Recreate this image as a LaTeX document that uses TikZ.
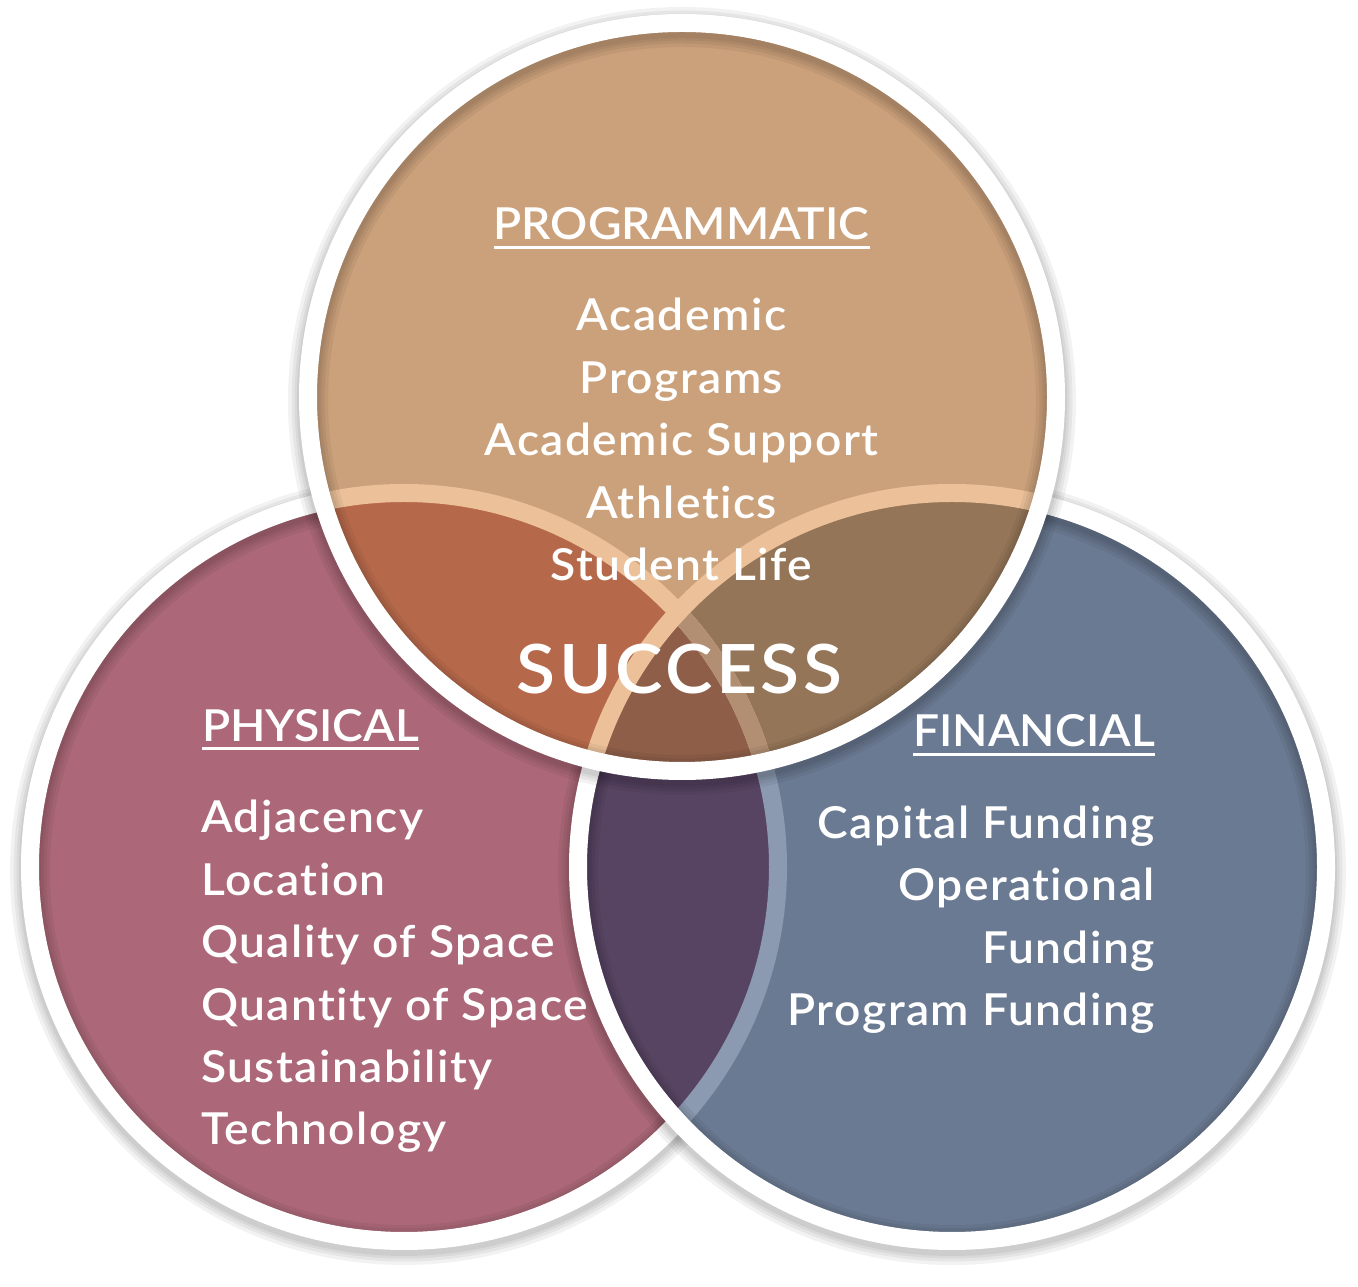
\documentclass[tikz,border=0pt]{standalone}
\usepackage{fontspec}
\IfFontExistsTF{Lato Semibold}{%
  \newfontfamily\txtfont{Lato Semibold}[FakeStretch=1.05, LetterSpace=3.3, Ligatures=NoCommon]%
  \newfontfamily\hdfont{Lato Semibold}[FakeStretch=1.05, Ligatures=NoCommon]%
  \newfontfamily\bgfont{Lato Semibold}[FakeStretch=1.05, LetterSpace=5, Ligatures=NoCommon]%
}{%
  \newfontfamily\txtfontX{Lato}[FakeStretch=1.05, LetterSpace=3.3, Ligatures=NoCommon]\newcommand\txtfont{\txtfontX\bfseries}%
  \newfontfamily\hdfontX{Lato}[FakeStretch=1.05, Ligatures=NoCommon]\newcommand\hdfont{\hdfontX\bfseries}%
  \newfontfamily\bgfontX{Lato}[FakeStretch=1.05, LetterSpace=5, Ligatures=NoCommon]\newcommand\bgfont{\bgfontX\bfseries}%
}
\definecolor{cT}{HTML}{CBA17B}
\definecolor{cL}{HTML}{AC6878}
\definecolor{cR}{HTML}{6B7A93}
\definecolor{cLT}{HTML}{B6694A}
\definecolor{cRT}{HTML}{957558}
\definecolor{cLR}{HTML}{574463}
\definecolor{cLRT}{HTML}{8E5E48}
\definecolor{cPeach}{HTML}{ECC199}
\definecolor{cRingR}{HTML}{8B99B1}
\definecolor{cRingRT}{HTML}{B28F72}
\newcommand\rr{374pt}
\newcommand\glowring[1]{\foreach \w in {40,33,27,22}{\draw[black, opacity=0.05, line width=\w pt] ([yshift=-4pt]#1) circle (\rr);}}
\begin{document}
\begin{tikzpicture}[x=1pt,y=1pt,
  ring/.style={line width=18pt},
  lbl/.style={text=white, inner sep=0pt, font=\txtfont\fontsize{44}{44}\selectfont},
  hd/.style={text=white, inner sep=0pt, font=\hdfont\fontsize{44}{44}\selectfont},
  big/.style={text=white, inner sep=0pt, font=\bgfont\fontsize{68}{68}\selectfont},
  uline/.style={white, line width=3pt}]
\useasboundingbox (0,0) rectangle (1358,1287);
\fill[white] (0,0) rectangle (1358,1287);
\coordinate (T) at (682,890);
\coordinate (L) at (404,420);
\coordinate (R) at (952,420);
% left circle
\fill[cL] (L) circle (\rr);
\glowring{L}
\draw[white, ring] (L) circle (\rr);
% right circle
\fill[cR] (R) circle (\rr);
\begin{scope}
  \clip (R) circle (\rr);
  \fill[cLR] (L) circle (\rr);
  \draw[ring, cRingR] (L) circle (\rr);
\end{scope}
\glowring{R}
\draw[white, ring] (R) circle (\rr);
% top circle
\fill[cT] (T) circle (\rr);
\begin{scope}
  \clip (T) circle (\rr);
  \fill[cLT] (L) circle (\rr);
  \fill[cRT] (R) circle (\rr);
  \begin{scope}
    \clip (L) circle (\rr);
    \fill[cLRT] (R) circle (\rr);
  \end{scope}
  \draw[ring, cPeach] (L) circle (\rr);
  \begin{scope}
    \clip (R) circle (\rr);
    \draw[ring, cRingRT] (L) circle (\rr);
  \end{scope}
  \draw[ring, cPeach] (R) circle (\rr);
\end{scope}
\glowring{T}
\draw[white, ring] (T) circle (\rr);
% texts: programmatic
\node[hd, anchor=base] (hP) at (681.5,1047) {PROGRAMMATIC};
\draw[uline] ([yshift=-7.5pt]hP.base west) -- ([yshift=-7.5pt]hP.base east);
\node[lbl, anchor=base] (p1) at (681.5,956) {Academic};
\node[lbl, anchor=base] (p2) at (681.5,893.6) {Programs};
\node[lbl, anchor=base] (p3) at (681.5,831.2) {Academic Support};
\node[lbl, anchor=base] (p4) at (681.5,768.8) {Athletics};
\node[lbl, anchor=base] (p5) at (681.5,706.4) {Student Life};
% success
\node[big, anchor=base] (succ) at (679.5,593) {SUCCESS};
% physical
\node[hd, anchor=base west] (hY) at (202,545) {PHYSICAL};
\draw[uline] ([yshift=-7pt]hY.base west) -- ([yshift=-7pt]hY.base east);
\node[lbl, anchor=base west] (y1) at (201,454) {Adjacency};
\node[lbl, anchor=base west] (y2) at (201,391.6) {Location};
\node[lbl, anchor=base west] (y3) at (201,329.2) {Quality of Space};
\node[lbl, anchor=base west] (y4) at (201,266.8) {Quantity of Space};
\node[lbl, anchor=base west] (y5) at (201,204.4) {Sustainability};
\node[lbl, anchor=base west] (y6) at (201,142) {Technology};
% financial
\node[hd, anchor=base east] (hF) at (1155,540.3) {FINANCIAL};
\draw[uline] ([yshift=-7.5pt]hF.base west) -- ([yshift=-7.5pt]hF.base east);
\node[lbl, anchor=base east] (f1) at (1155,448.7) {Capital Funding};
\node[lbl, anchor=base east] (f2) at (1155,386.3) {Operational};
\node[lbl, anchor=base east] (f3) at (1155,323.9) {Funding};
\node[lbl, anchor=base east] (f4) at (1155,261.5) {Program Funding};
\end{tikzpicture}
\end{document}
